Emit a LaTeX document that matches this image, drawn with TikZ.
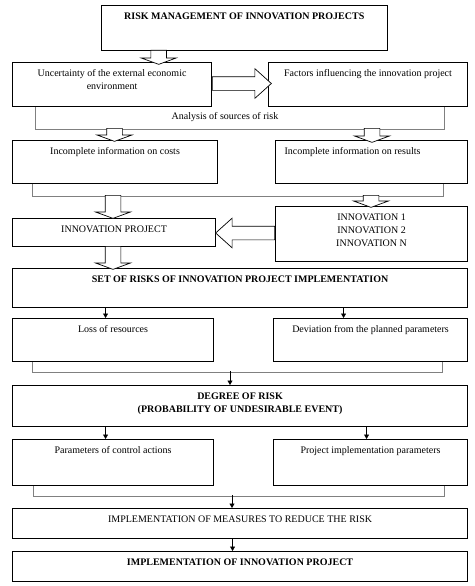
\documentclass[tikz,border=0pt]{standalone}
\usepackage{fontspec}
\setmainfont{Liberation Serif}
\usetikzlibrary{shapes.arrows,arrows.meta}

\begin{document}
\begin{tikzpicture}[x=1pt,y=-1pt,font=\fontsize{10}{13}\selectfont,
    box/.style={draw, line width=1.1pt, anchor=north west, inner sep=0pt},
    txt/.style={anchor=north, inner sep=0pt, yshift=-7.5pt, align=center, font=\fontsize{10}{13}\selectfont},
    bold/.style={txt, font=\fontsize{10}{13}\selectfont\bfseries},
    vblock/.style={single arrow, draw, fill=white, line width=.7pt, inner xsep=0pt, inner ysep=7.5pt,
      minimum width=0pt, single arrow head extend=9.5pt, single arrow tip angle=140,
      rotate=-90, anchor=tail},
    hblock/.style={single arrow, draw, fill=white, line width=.7pt, inner xsep=0pt, inner ysep=6.5pt,
      minimum width=0pt, single arrow head extend=8pt, single arrow tip angle=84, anchor=tail},
    bracket/.style={draw=gray, line width=.8pt},
    thinarrow/.style={-{Triangle[length=4.5pt,width=5pt]}, line width=.6pt}]

        \useasboundingbox (0,0) rectangle (474,586);

        % boxes
        \node[box, minimum width=286pt, minimum height=45pt, label={[bold]north:RISK MANAGEMENT OF INNOVATION PROJECTS}] (rm) at (100.7,5) {};
        \node[box, minimum width=199pt, minimum height=44pt, label={[txt]north:{Uncertainty of the external economic\\environment}}] (unc) at (12,62) {};
        \node[box, minimum width=199pt, minimum height=44pt, label={[txt]north:Factors influencing the innovation project}] (fac) at (268,62) {};
        \node[box, minimum width=205pt, minimum height=43pt, label={[txt]north:Incomplete information on costs}] (costs) at (12,140) {};
        \node[box, minimum width=192pt, minimum height=43pt, label={[txt,xshift=-19pt]north:Incomplete information on results}] (results) at (275,140) {};
        \node[box, minimum width=203pt, minimum height=28pt, label={[txt]north:INNOVATION PROJECT}] (proj) at (12,218) {};
        \node[box, minimum width=192pt, minimum height=55pt, label={[txt]north:{INNOVATION 1\\INNOVATION 2\\INNOVATION N}}] (innov) at (275,206) {};
        \node[box, minimum width=455pt, minimum height=39pt, label={[bold]north:SET OF RISKS OF INNOVATION PROJECT IMPLEMENTATION}] (set) at (12,268) {};
        \node[box, minimum width=201pt, minimum height=43pt, label={[txt]north:Loss of resources}] (loss) at (12,318) {};
        \node[box, minimum width=194pt, minimum height=43pt, label={[txt]north:Deviation from the planned parameters}] (dev) at (273,318) {};
        \node[box, minimum width=455pt, minimum height=41pt, label={[bold]north:{DEGREE OF RISK\\(PROBABILITY OF UNDESIRABLE EVENT)}}] (degree) at (12,385) {};
        \node[box, minimum width=201pt, minimum height=46pt, label={[txt]north:Parameters of control actions}] (ctrl) at (12,439) {};
        \node[box, minimum width=194pt, minimum height=46pt, label={[txt]north:Project implementation parameters}] (impl) at (273,439) {};
        \node[box, minimum width=455pt, minimum height=30pt, label={[txt]north:IMPLEMENTATION OF MEASURES TO REDUCE THE RISK}] (measures) at (12,508) {};
        \node[box, minimum width=455pt, minimum height=30pt, label={[bold]north:IMPLEMENTATION OF INNOVATION PROJECT}] (final) at (12,551) {};

        % brackets under the paired boxes
        \draw[bracket] ([xshift=23pt]unc.south west) -- ++(0,22) -| ([xshift=-24pt]fac.south east);
        \node[inner sep=0pt] (analysis) at (225,117) {Analysis of sources of risk};
        \draw[bracket] ([xshift=20pt]costs.south west) -- ++(0,12) -| ([xshift=-25pt]results.south east);
        \draw[bracket] ([xshift=20pt]loss.south west) -- ++(0,10) -| ([xshift=-26pt]dev.south east);
        \draw[bracket] ([xshift=21pt]ctrl.south west) -- ++(0,10) -| ([xshift=-24pt]impl.south east);
        \coordinate (b3) at (230,371);
        \coordinate (b4) at (232,495);

        % block arrows
        \node[vblock, minimum height=14pt] (a1) at (158.7,50) {};
        \node[hblock, minimum height=59pt] (a2) at (212,83.5) {};
        \node[vblock, minimum height=13pt] (a3) at (114.5,128) {};
        \node[vblock, minimum height=14pt] (a4) at (372,128) {};
        \node[vblock, minimum height=23pt] (a5) at (113,195) {};
        \node[vblock, minimum height=12pt] (a6) at (371,195) {};
        \node[hblock, minimum height=59pt, rotate=180] (a7) at (275,233) {};
        \node[vblock, minimum height=23pt] (a8) at (113,246) {};

        % thin arrows
        \draw[thinarrow] ([xshift=-7.5pt]loss.north |- set.south) -- ([xshift=-7.5pt]loss.north);
        \draw[thinarrow] ([xshift=-27pt]dev.north |- set.south) -- ([xshift=-27pt]dev.north);
        \draw[thinarrow] (b3) -- (b3 |- degree.north);
        \draw[thinarrow] ([xshift=-7.5pt]ctrl.north |- degree.south) -- ([xshift=-7.5pt]ctrl.north);
        \draw[thinarrow] ([xshift=-4pt]impl.north |- degree.south) -- ([xshift=-4pt]impl.north);
        \draw[thinarrow] (b4) -- (b4 |- measures.north);
        \draw[thinarrow] ([xshift=-7.5pt]measures.south) -- ([xshift=-7.5pt]final.north);

      \end{tikzpicture}
\end{document}
